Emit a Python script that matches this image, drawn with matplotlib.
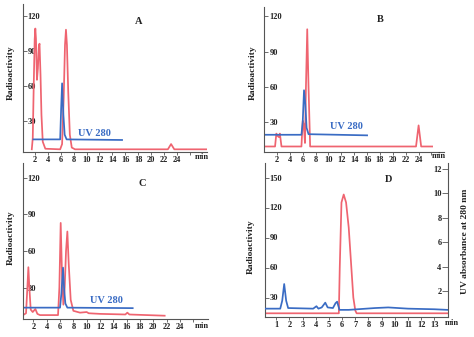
import matplotlib
matplotlib.use("Agg")
import matplotlib.pyplot as plt

# ---------------- data (retention time in min, detector response) ----------------
# Panel A
a_red_t = [1.5, 1.65, 1.8, 1.95, 2.05, 2.15, 2.3, 2.45, 2.6, 2.7, 2.85, 3.0, 3.2, 3.6, 5.9, 6.2, 6.45, 6.65, 6.8,
           6.95, 7.15, 7.4, 7.7, 8.2, 22.6, 23.1, 23.6, 28.7]
a_red_v = [5.5, 15, 60, 100, 109, 100, 65, 75, 94, 96, 70, 35, 12, 6, 5.5, 10, 50, 95, 108,
           95, 55, 18, 7, 5.5, 5.5, 10, 5.5, 5.5]
a_blue_t = [1.75, 5.9, 6.05, 6.2, 6.4, 6.6, 6.9, 15.5]
a_blue_v = [14, 14, 40, 62, 35, 18, 14, 13.5]

# Panel B
b_red_t = [0.2, 1.7, 1.9, 2.1, 2.3, 2.45, 2.7, 5.8, 6.0, 6.15, 6.35, 6.5, 6.7, 6.9, 7.15,
           23.6, 24.0, 24.4, 26.1]
b_red_v = [9, 9, 20, 18, 17, 20, 9, 9, 31, 28, 12, 60, 109, 60, 9,
           9, 27, 9, 9]
b_blue_t = [0.0, 5.8, 6.0, 6.2, 6.4, 6.6, 6.9, 16.0]
b_blue_v = [19, 19, 30, 57, 45, 25, 19.5, 18.5]

# Panel C
c_red_t = [0.45, 0.9, 1.1, 1.25, 1.4, 1.6, 1.9, 2.3, 2.6, 3.0, 5.7, 5.9, 6.1, 6.3, 6.5, 6.7, 6.9, 7.1, 7.3,
           7.6, 8.0, 9.0, 10.0, 10.3, 12.0, 15.8, 16.1, 16.4, 21.7]
c_red_v = [7.5, 9, 30, 46.7, 30, 12, 10, 12.5, 8.5, 7.5, 7.5, 30, 83, 40, 16, 30, 60, 76, 50,
           20, 11, 9.5, 10, 9, 8.5, 8, 9.5, 8, 7]
c_blue_t = [0.4, 6.0, 6.2, 6.45, 6.6, 6.8, 7.1, 16.9]
c_blue_v = [13.6, 13.6, 25, 46.4, 30, 17, 13.6, 13.2]

# Panel D (radioactivity on the left axis, UV absorbance on the right axis)
d_red_t = [0.15, 5.75, 5.82, 5.95, 6.12, 6.3, 6.5, 6.7, 6.85, 7.0, 7.1, 14.0]
d_red_v = [14.2, 14.2, 60, 125, 133, 125, 100, 60, 30, 17, 14.2, 14.2]
d_blue_t = [0.15, 1.3, 1.45, 1.6, 1.75, 1.9, 3.8, 4.05, 4.2, 4.45, 4.72, 4.9, 5.3, 5.5, 5.62, 5.8, 6.5,
            8.5, 9.5, 11.0, 13.0, 14.0]
d_blue_v = [0.55, 0.55, 1.2, 2.57, 1.2, 0.6, 0.55, 0.75, 0.55, 0.65, 1.04, 0.65, 0.6, 1.0, 1.12, 0.45, 0.45,
            0.6, 0.65, 0.55, 0.5, 0.45]

# ---------------- tick labels ----------------
abc_xticks = [2, 4, 6, 8, 10, 12, 14, 16, 18, 20, 22, 24, 26]
abc_xlabels = ["2", "4", "6", "8", "10", "12", "14", "16", "18", "20", "22", "24", ""]
abc_yticks = [30, 60, 90, 120]
d_xticks = [1, 2, 3, 4, 5, 6, 7, 8, 9, 10, 11, 12, 13]
d_yticks = [30, 60, 90, 120, 150]
d_uv_ticks = [2, 4, 6, 8, 10, 12]

# ---------------- figure ----------------
W, H = 474, 337
plt.rcParams["font.family"] = ["Liberation Serif", "DejaVu Serif"]
plt.rcParams["font.weight"] = "bold"
fig = plt.figure(figsize=(W / 100, H / 100), dpi=100)

RED = "#ef6470"
BLUE = "#3a6cc4"
AXC = "#555555"
TXT = "#222222"
FS_TICK = 6.0
FS_LAB = 6.8
LW = 1.25


def box(l, t, r, b):
    return [l / W, 1 - b / H, (r - l) / W, (b - t) / H]


def ftext(x, y, s, **kw):
    fig.text(x / W, 1 - y / H, s, color=TXT, fontweight="bold", **kw)


def style(ax, xticks, xlabels, yticks, xlim, ylim):
    ax.set_xlim(*xlim)
    ax.set_ylim(*ylim)
    for s in ("top", "right"):
        ax.spines[s].set_visible(False)
    for s in ("left", "bottom"):
        ax.spines[s].set_color(AXC)
        ax.spines[s].set_linewidth(0.8)
    ax.set_xticks(xticks, xlabels)
    ax.set_yticks(yticks, [str(v) for v in yticks])
    ax.tick_params(axis="x", direction="out", length=2, width=0.6, pad=1,
                   labelsize=FS_TICK, colors=AXC, labelcolor=TXT)
    ax.tick_params(axis="y", direction="in", length=3, width=0.6, pad=-3.6,
                   labelsize=FS_TICK, colors=AXC, labelcolor=TXT)
    for lab in ax.get_yticklabels():
        lab.set_horizontalalignment("left")
    ax.patch.set_alpha(0)


# Panel A
axA = fig.add_axes(box(22.5, 4, 207, 152))
axA.plot(a_red_t, a_red_v, color=RED, lw=LW)
axA.plot(a_blue_t, a_blue_v, color=BLUE, lw=LW)
style(axA, abc_xticks, abc_xlabels, abc_yticks, (0.06, 28.67), (3.2, 130))
axA.text(11.2, 19.2, "UV 280", color=BLUE, fontsize=7.5, ha="center", va="center", fontweight="bold")
ftext(139, 21, "A", fontsize=7.5, ha="center", va="center")
ftext(11, 73, "Radioactivity", fontsize=FS_LAB, rotation=90, ha="center", va="center")
ftext(201.7, 157, "min", fontsize=FS_TICK, ha="center", va="center")

# Panel B
axB = fig.add_axes(box(264.3, 7, 443.7, 152))
axB.plot(b_red_t, b_red_v, color=RED, lw=LW)
axB.plot(b_blue_t, b_blue_v, color=BLUE, lw=LW)
style(axB, abc_xticks, abc_xlabels, abc_yticks, (0.03, 27.9), (4.3, 128))
axB.text(12.8, 25.7, "UV 280", color=BLUE, fontsize=7.5, ha="center", va="center", fontweight="bold")
ftext(380, 20, "B", fontsize=7.5, ha="center", va="center")
ftext(252.7, 73, "Radioactivity", fontsize=FS_LAB, rotation=90, ha="center", va="center")
ftext(438.7, 156, "min", fontsize=FS_TICK, ha="center", va="center")

# Panel C
axC = fig.add_axes(box(22.7, 163, 208, 319))
axC.plot(c_red_t, c_red_v, color=RED, lw=LW)
axC.plot(c_blue_t, c_blue_v, color=BLUE, lw=LW)
style(axC, abc_xticks, abc_xlabels, abc_yticks, (0.4, 28.2), (4.3, 132.1))
axC.text(12.9, 19.1, "UV 280", color=BLUE, fontsize=7.5, ha="center", va="center", fontweight="bold")
ftext(142, 183, "C", fontsize=7.5, ha="center", va="center")
ftext(11, 238, "Radioactivity", fontsize=FS_LAB, rotation=90, ha="center", va="center")
ftext(201.7, 326, "min", fontsize=FS_TICK, ha="center", va="center")

# Panel D
axD = fig.add_axes(box(264.7, 163, 448, 316.7))
axD.plot(d_red_t, d_red_v, color=RED, lw=LW)
style(axD, d_xticks, [str(v) for v in d_xticks], d_yticks, (0.12, 14.04), (10.8, 164.5))
axD2 = axD.twinx()
axD2.plot(d_blue_t, d_blue_v, color=BLUE, lw=LW)
axD2.set_ylim(-0.11, 12.49)
for s in ("top", "left", "bottom"):
    axD2.spines[s].set_visible(False)
axD2.spines["right"].set_color(AXC)
axD2.spines["right"].set_linewidth(0.8)
axD2.set_yticks(d_uv_ticks, [str(v) for v in d_uv_ticks])
axD2.tick_params(axis="y", direction="in", length=4, width=0.6, pad=-4.6,
                 labelsize=FS_TICK, colors=AXC, labelcolor=TXT)
for lab in axD2.get_yticklabels():
    lab.set_horizontalalignment("right")
ftext(388.7, 180, "D", fontsize=7.5, ha="center", va="center")
ftext(251, 246.7, "Radioactivity", fontsize=FS_LAB, rotation=90, ha="center", va="center")
ftext(464.7, 241, "UV absorbance at 280 nm", fontsize=FS_LAB, rotation=90, ha="center", va="center")
ftext(451.5, 323.3, "min", fontsize=FS_TICK, ha="center", va="center")

fig.savefig("out.png", dpi=100, facecolor="white")
